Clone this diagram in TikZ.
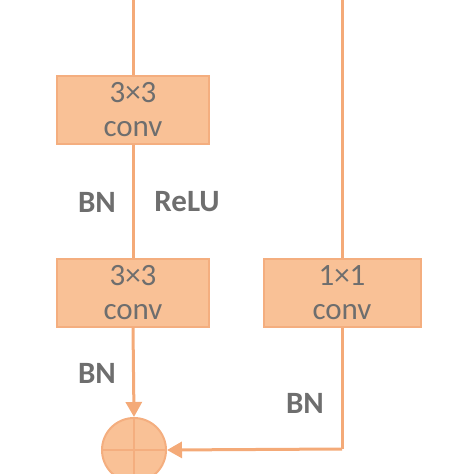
\documentclass[tikz,border=0pt]{standalone}
\usepackage{fontspec}
\setmainfont{Carlito}
\usetikzlibrary{arrows.meta}
\definecolor{boxfill}{HTML}{F9C196}
\definecolor{boxline}{HTML}{F4AE7F}
\definecolor{wire}{HTML}{F4AA78}
\definecolor{txt}{HTML}{6E6E6E}
\begin{document}
\begin{tikzpicture}[x=1pt,y=-1pt,
  convbox/.style={draw=boxline,fill=boxfill,line width=2pt,minimum width=152pt,minimum height=68pt,
    align=center,text=txt,font=\fontsize{31}{34}\selectfont,inner sep=0pt},
  lbl/.style={text=txt,font=\fontsize{31}{34}\selectfont\bfseries,inner sep=0pt},
  wireline/.style={draw=wire,line width=3pt},
  arr/.style={wireline,-{Triangle[length=15pt,width=16pt]}}]
\useasboundingbox (0,0) rectangle (474,474);
\clip (0,0) rectangle (474,474);
\coordinate (topL) at (133,0);
\coordinate (topR) at (342,0);
\node[convbox] (c1) at (133,109.5) {3×3\\conv};
\node[convbox] (c2) at (133,292.5) {3×3\\conv};
\node[convbox,minimum width=157pt] (c3) at (342,292.5) {1×1\\conv};
\node[circle,draw=boxline,fill=boxfill,line width=2pt,minimum size=64pt,inner sep=0pt] (add) at (134,450) {};
\draw[boxline,line width=2pt] (add.north) -- (add.south) (add.west) -- (add.east);
\coordinate (corner) at (342,449);
\path[wireline] (topL) -- (c1.north);
\path[wireline] (c1.south) -- (c2.north);
\path[arr] (c2.south) -- (add.north);
\path[wireline] (topR) -- (c3.north);
\path[wireline] (c3.south) -- (corner);
\path[arr] (corner) -- (add.east);
\node[lbl] (bn1) at (97,202) {BN};
\node[lbl] (relu) at (187,202) {ReLU};
\node[lbl] (bn2) at (97,373) {BN};
\node[lbl] (bn3) at (305,403) {BN};
\end{tikzpicture}
\end{document}
